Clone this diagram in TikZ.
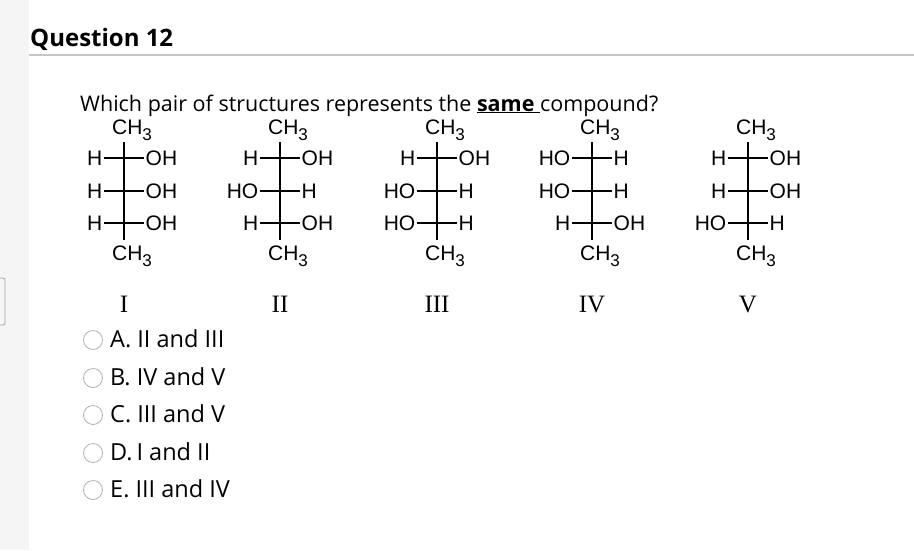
\documentclass[tikz,border=0pt]{standalone}
\usepackage{fontspec}
\setmainfont{Open Sans}
\newfontfamily\chem{Liberation Sans}
\newfontfamily\rom{Liberation Serif}
\newcommand{\methyl}{CH\raisebox{-0.5ex}{\fontsize{17}{17}\selectfont 3}}
\begin{document}
\begin{tikzpicture}[x=1pt,y=-1pt,
  sub/.style={font=\chem\fontsize{21}{21}\selectfont,inner sep=1.5pt},
  bond/.style={line width=1.8pt},
  opt/.style={font=\fontsize{23.5}{23.5}\selectfont,anchor=west,inner sep=0pt},
  radio/.style={circle,draw=gray!60,line width=0.8pt,minimum size=19pt,inner sep=0pt}]
\useasboundingbox (0,0) rectangle (914,550);
\fill[gray!8] (0,0) rectangle (29,550);
\fill[white] (29,0) rectangle (914,550);
\draw[gray!70,line width=0.8pt,rounded corners=2pt] (-5,278) rectangle (5,325);
\node[anchor=base west,inner sep=0pt,font=\bfseries\fontsize{24}{24}\selectfont] (title) at (30,46) {Question 12};
\draw[gray!45,line width=1.2pt] (29,55) -- (914,55);
\node[anchor=base west,inner sep=0pt,font=\fontsize{21.5}{21.5}\selectfont] (q) at (80,111) {Which pair of structures represents the \underline{\textbf{same}\ }compound?};
\foreach \cx/\a/\b/\c/\d/\e/\f/\r [count=\i] in {
 124/H/OH/H/OH/H/OH/I,
 280/H/OH/HO/H/H/OH/II,
 437/H/OH/HO/H/HO/H/III,
 592/HO/H/HO/H/H/OH/IV,
 748/H/OH/H/OH/HO/H/V}{
  \coordinate (t\i) at (\cx,142);
  \coordinate (b\i) at (\cx,240);
  \draw[bond] (t\i) -- (b\i);
  \node[sub] (top\i) at (\cx+8,130) {\methyl};
  \node[sub] (bot\i) at (\cx+8,256) {\methyl};
  \foreach \y/\L/\R [count=\j] in {158/\a/\b,191/\c/\d,223/\e/\f}{
    \coordinate (l\i\j) at (\cx-20,\y);
    \coordinate (r\i\j) at (\cx+20,\y);
    \draw[bond] (l\i\j) -- (r\i\j);
    \node[sub,anchor=east] (L\i\j) at (l\i\j) {\L};
    \node[sub,anchor=west] (R\i\j) at (r\i\j) {\R};
  }
  \node[font=\rom\fontsize{25}{25}\selectfont] (num\i) at (\cx,304) {\r};
}
\foreach \y/\t [count=\k] in {340/A. II and III,378/B. IV and V,415/C. III and V,453/D.\,I and II,490/E. III and IV}{
  \node[radio] (c\k) at (93,\y) {};
  \node[opt] (o\k) at (110,\y-1) {\t};
}
\end{tikzpicture}
\end{document}
